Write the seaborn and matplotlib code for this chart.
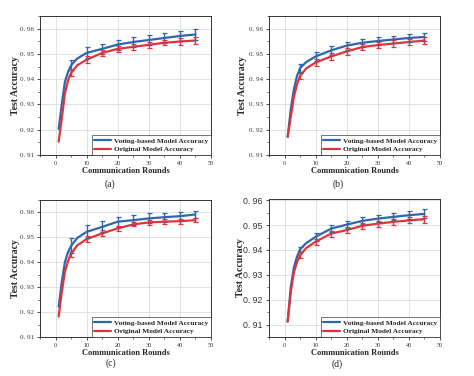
import numpy as np
import pandas as pd
import matplotlib
matplotlib.use("Agg")
import matplotlib.pyplot as plt
from matplotlib.ticker import MultipleLocator, FuncFormatter
from matplotlib.lines import Line2D
import seaborn as sns

sns.set_style("ticks")
plt.rcParams['font.family'] = ['Liberation Serif', 'DejaVu Serif']

# ---------------- data ----------------
rounds = [1, 2, 3, 4, 5, 7, 10, 15, 20, 25, 30, 35, 40, 45]
err_rounds = [5, 10, 15, 20, 25, 30, 35, 40, 45]

a_vote = [0.9203, 0.9300, 0.9389, 0.9428, 0.9455, 0.9482, 0.9504, 0.9520, 0.9537, 0.9547, 0.9555, 0.9563, 0.9571, 0.9577]
a_orig = [0.9153, 0.9243, 0.9342, 0.9395, 0.9425, 0.9455, 0.9477, 0.9504, 0.9520, 0.9528, 0.9536, 0.9544, 0.9549, 0.9553]
a_vote_err = [0.0020, 0.0022, 0.0020, 0.0020, 0.0020, 0.0020, 0.0020, 0.0020, 0.0022]
a_orig_err = [0.0012, 0.0014, 0.0012, 0.0012, 0.0012, 0.0012, 0.0010, 0.0012, 0.0012]

b_vote = [0.9172, 0.9280, 0.9360, 0.9412, 0.9444, 0.9468, 0.9490, 0.9514, 0.9533, 0.9544, 0.9551, 0.9557, 0.9563, 0.9567]
b_orig = [0.9172, 0.9250, 0.9330, 0.9380, 0.9413, 0.9443, 0.9466, 0.9490, 0.9510, 0.9527, 0.9535, 0.9541, 0.9547, 0.9553]
b_vote_err = [0.0015, 0.0018, 0.0018, 0.0016, 0.0016, 0.0014, 0.0014, 0.0014, 0.0014]
b_orig_err = [0.0013, 0.0014, 0.0014, 0.0013, 0.0013, 0.0013, 0.0013, 0.0013, 0.0013]

c_vote = [0.9222, 0.9320, 0.9400, 0.9440, 0.9466, 0.9498, 0.9522, 0.9542, 0.9563, 0.9569, 0.9576, 0.9581, 0.9585, 0.9592]
c_orig = [0.9182, 0.9280, 0.9360, 0.9405, 0.9435, 0.9468, 0.9493, 0.9516, 0.9536, 0.9552, 0.9560, 0.9563, 0.9565, 0.9569]
c_vote_err = [0.0030, 0.0026, 0.0022, 0.0020, 0.0020, 0.0020, 0.0018, 0.0018, 0.0015]
c_orig_err = [0.0012, 0.0012, 0.0012, 0.0010, 0.0008, 0.0010, 0.0010, 0.0010, 0.0008]

d_vote = [0.9112, 0.9250, 0.9330, 0.9373, 0.9403, 0.9428, 0.9453, 0.9486, 0.9502, 0.9517, 0.9526, 0.9533, 0.9540, 0.9545]
d_orig = [0.9112, 0.9230, 0.9310, 0.9350, 0.9379, 0.9408, 0.9433, 0.9466, 0.9480, 0.9497, 0.9506, 0.9513, 0.9519, 0.9524]
d_vote_err = [0.0010, 0.0016, 0.0014, 0.0014, 0.0014, 0.0014, 0.0014, 0.0016, 0.0018]
d_orig_err = [0.0012, 0.0012, 0.0012, 0.0012, 0.0012, 0.0012, 0.0012, 0.0012, 0.0014]

series_names = ["Voting-based Model Accuracy", "Original Model Accuracy"]
captions = ["(a)", "(b)", "(c)", "(d)"]
xlabel_text = "Communication Rounds"
ylabel_text = "Test Accuracy"

BLUE = "#2f66ad"
RED = "#e0343c"

panels = [
    (a_vote, a_orig, a_vote_err, a_orig_err),
    (b_vote, b_orig, b_vote_err, b_orig_err),
    (c_vote, c_orig, c_vote_err, c_orig_err),
    (d_vote, d_orig, d_vote_err, d_orig_err),
]

W, H = 474, 376
fig = plt.figure(figsize=(W / 100, H / 100), dpi=100)

# pixel boxes: left, top, right, bottom
boxes = [(40, 16, 211, 155), (269, 16, 440, 155), (40, 200, 211, 337), (269, 199, 440, 337)]
ylims = [(0.91, 0.965), (0.91, 0.965), (0.91, 0.965), (0.905, 0.9605)]
ylabel_x = [15, 243, 15, 240]
caption_pos = [(110, 184), (338, 184), (111, 363), (337, 364)]
xlabel_y = [171, 171, 353, 353]

def fmt_y(v, pos):
    s = f"{v:.2f}"
    return s.replace("0.", "0. ", 1)

for i, (vote, orig, verr, oerr) in enumerate(panels):
    l, t, r, b = boxes[i]
    ax = fig.add_axes([l / W, 1 - b / H, (r - l) / W, (b - t) / H])
    df = pd.DataFrame({
        "round": rounds * 2,
        "acc": list(vote) + list(orig),
        "series": [series_names[0]] * len(rounds) + [series_names[1]] * len(rounds),
    })
    sns.lineplot(data=df, x="round", y="acc", hue="series",
                 palette=[BLUE, RED], linewidth=1.6, ax=ax, legend=False)
    vote_e = [vote[rounds.index(x)] for x in err_rounds]
    orig_e = [orig[rounds.index(x)] for x in err_rounds]
    ax.errorbar(err_rounds, vote_e, yerr=verr, fmt='none', ecolor=BLUE,
                elinewidth=1.0, capsize=1.8, capthick=0.9, zorder=3)
    ax.errorbar(err_rounds, orig_e, yerr=oerr, fmt='none', ecolor=RED,
                elinewidth=1.0, capsize=1.8, capthick=0.9, zorder=3)

    ax.set_xlim(-5, 50)
    ax.set_ylim(*ylims[i])
    ax.xaxis.set_major_locator(MultipleLocator(10))
    ax.xaxis.set_minor_locator(MultipleLocator(5))
    ax.yaxis.set_major_locator(MultipleLocator(0.01))
    ax.yaxis.set_minor_locator(MultipleLocator(0.005))
    ax.yaxis.set_major_formatter(FuncFormatter(fmt_y))
    ax.grid(True, which='major', color='#dcdcdc', linewidth=0.6)
    ax.set_axisbelow(True)
    for sp in ax.spines.values():
        sp.set_color('#333333')
        sp.set_linewidth(0.7)
    ax.tick_params(which='major', direction='out', length=2.5, width=0.6,
                   colors='#333333', labelsize=4.5, pad=2)
    ax.tick_params(which='minor', direction='out', length=1.5, width=0.5, colors='#333333')
    if i == 3:
        for lab in ax.get_yticklabels():
            lab.set_fontfamily('Liberation Sans')
            lab.set_fontsize(6.3)
    else:
        for lab in ax.get_yticklabels():
            lab.set_fontsize(5)
    ax.set_xlabel("")
    ax.set_ylabel("")

    # axis labels
    fig.text(((l + r) / 2) / W, 1 - xlabel_y[i] / H, xlabel_text, ha='center', va='center',
             fontsize=6, fontweight='bold')
    fig.text(ylabel_x[i] / W, 1 - ((t + b) / 2) / H, ylabel_text, ha='center', va='center',
             rotation=90, fontsize=7, fontweight='bold')
    cx, cy = caption_pos[i]
    fig.text(cx / W, 1 - cy / H, captions[i], ha='center', va='center', fontsize=7)

    # legend
    handles = [Line2D([0], [0], color=BLUE, lw=1.6), Line2D([0], [0], color=RED, lw=1.6)]
    leg = ax.legend(handles, series_names, loc='lower right', borderaxespad=0,
                    prop={'family': 'Liberation Serif', 'weight': 'bold', 'size': 5.3},
                    frameon=True, fancybox=False, handlelength=2.3, handletextpad=0.4,
                    borderpad=0.35, labelspacing=0.3)
    leg.get_frame().set_edgecolor('#333333')
    leg.get_frame().set_linewidth(0.6)

fig.savefig("out.png", dpi=100)
